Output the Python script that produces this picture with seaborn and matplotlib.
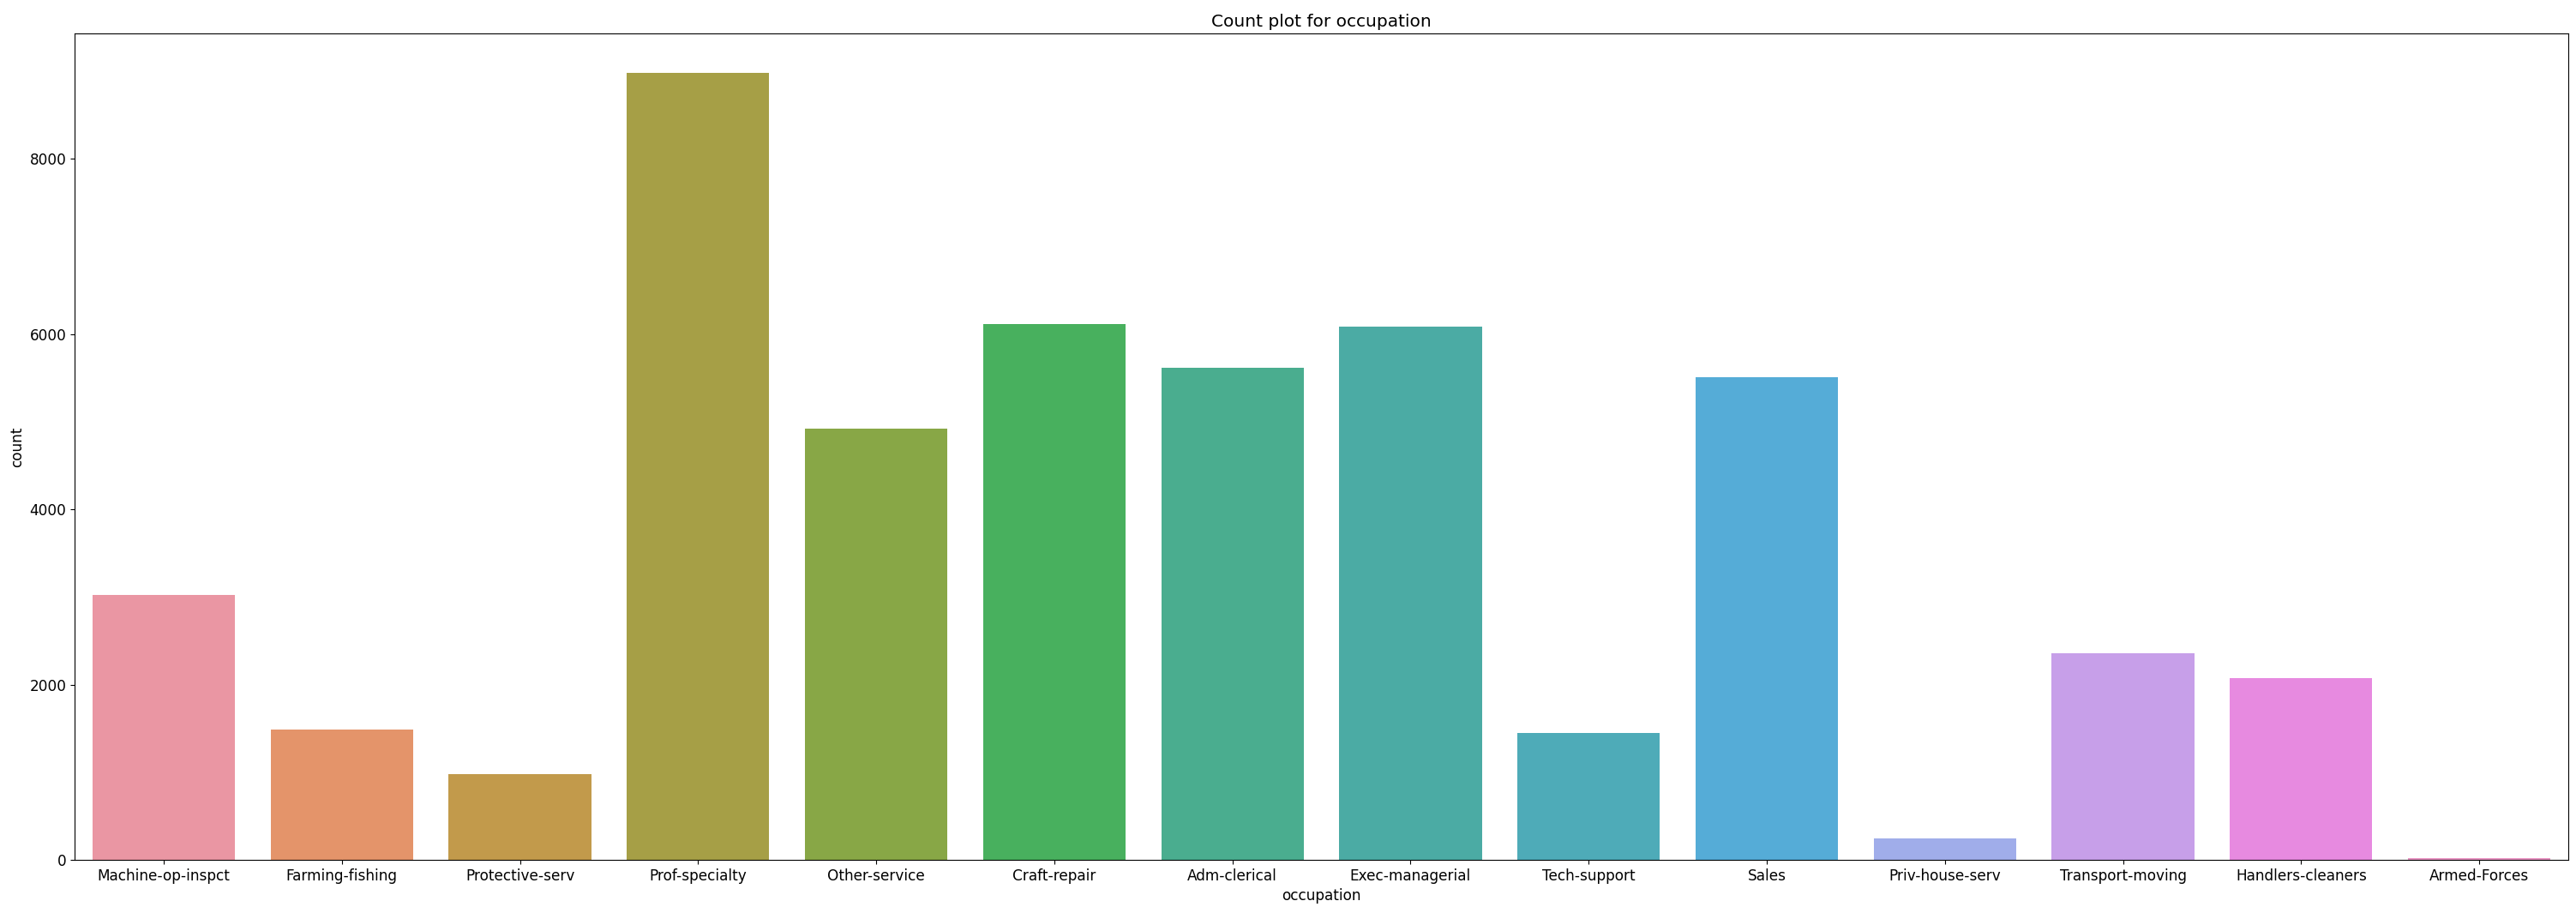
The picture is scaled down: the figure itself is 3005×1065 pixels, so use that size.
import pandas as pd
import matplotlib
matplotlib.use("Agg")
import matplotlib.pyplot as plt
import seaborn as sns

# 데이터
occupations = ["Machine-op-inspct", "Farming-fishing", "Protective-serv", "Prof-specialty",
               "Other-service", "Craft-repair", "Adm-clerical", "Exec-managerial",
               "Tech-support", "Sales", "Priv-house-serv", "Transport-moving",
               "Handlers-cleaners", "Armed-Forces"]
counts = [3022, 1490, 983, 8981, 4923, 6112, 5611, 6086, 1446, 5504, 242, 2355, 2072, 15]

df = pd.DataFrame({"occupation": occupations, "count": counts})

plt.rcParams["font.size"] = 12.2

fig, ax = plt.subplots(figsize=(30.05, 10.65), dpi=100)
sns.barplot(data=df, x="occupation", y="count", hue="occupation",
            palette=sns.husl_palette(len(occupations), l=.7), saturation=0.75,
            legend=False, ax=ax)
ax.set_title("Count plot for occupation", fontsize=14.5)
ax.set_xlabel("occupation")
ax.set_ylabel("count")

plt.subplots_adjust(left=0.029, right=0.997, top=0.9634, bottom=0.0582)
plt.savefig("out.png", dpi=100)
plt.close()
